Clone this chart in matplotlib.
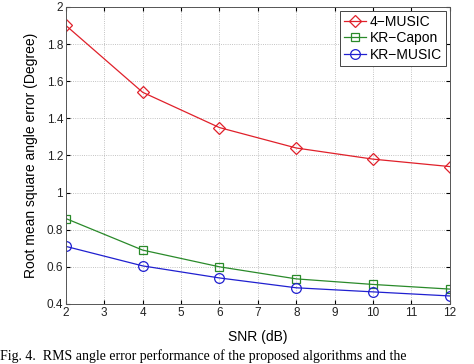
import matplotlib.pyplot as plt
import numpy as np

plt.rcParams['font.family'] = ['Liberation Sans', 'DejaVu Sans']

snr = [2, 4, 6, 8, 10, 12]
music4 = [1.90, 1.54, 1.35, 1.24, 1.18, 1.14]
kr_capon = [0.86, 0.69, 0.60, 0.535, 0.505, 0.48]
kr_music = [0.71, 0.605, 0.54, 0.487, 0.465, 0.443]
yticks = [0.4, 0.6, 0.8, 1.0, 1.2, 1.4, 1.6, 1.8, 2.0]
ytick_labels = ["0.4", "0.6", "0.8", "1", "1.2", "1.4", "1.6", "1.8", "2"]

fig = plt.figure(figsize=(4.74, 3.64), dpi=100)
ax = fig.add_axes([0.139, 0.165, 0.810, 0.816])

ax.plot(snr, music4, "-D", color="#e0202a", lw=0.9, ms=6.5, mfc="none", mew=0.9, label="4\u2212MUSIC")
ax.plot(snr, kr_capon, "-s", color="#2a8a2a", lw=0.9, ms=6, mfc="none", mew=0.9, label="KR\u2212Capon")
ax.plot(snr, kr_music, "-o", color="#2020d0", lw=0.9, ms=7, mfc="none", mew=0.9, label="KR\u2212MUSIC")

ax.set_xlim(2, 12)
ax.set_ylim(0.4, 2.0)
ax.set_xticks(range(2, 13))
ax.set_yticks(yticks)
ax.set_yticklabels(ytick_labels)
ax.tick_params(direction="in", labelsize=8.5, length=3, top=True, right=True, pad=2,
               labelcolor="#222222")
ax.grid(True, linestyle=":", color="#b0b0b0", lw=0.6)
for s in ax.spines.values():
    s.set_color("#555555")
    s.set_linewidth(0.7)

ax.set_xlabel("SNR (dB)", fontsize=10, labelpad=8)
ax.set_ylabel("Root mean square angle error (Degree)", fontsize=10, labelpad=6)

leg = ax.legend(loc="upper right", fontsize=10, handlelength=1.6, handletextpad=0.3,
                borderpad=0.25, labelspacing=0.2, borderaxespad=0.3, fancybox=False,
                framealpha=1, edgecolor="#444444")
leg.get_frame().set_linewidth(0.7)

fig.text(0.0, 0.003, "Fig. 4.  RMS angle error performance of the proposed algorithms and the",
         fontsize=10, family="Liberation Serif", va="bottom", ha="left")

fig.savefig("out.png", dpi=100)
